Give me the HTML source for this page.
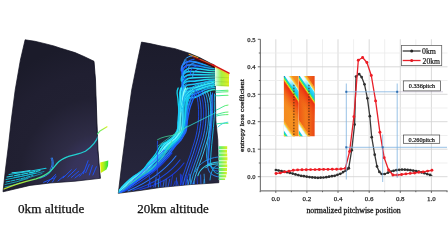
<!DOCTYPE html>
<html><head><meta charset="utf-8"><title>Entropy loss</title>
<style>
html,body{margin:0;padding:0;background:#fff;width:448px;height:252px;overflow:hidden}
svg{display:block}
text{font-family:"Liberation Serif","Times New Roman",serif;fill:#111}
.tk{font-size:6.8px;fill:#2a2a2a;stroke:#2a2a2a;stroke-width:0.25px}
.al{font-size:7.4px;fill:#1a1a1a;stroke:#1a1a1a;stroke-width:0.28px}
.bx{font-size:6.2px;fill:#1a1a1a;stroke:#1a1a1a;stroke-width:0.22px}
.lg{font-size:8.4px;fill:#1a1a1a;stroke:#1a1a1a;stroke-width:0.22px}
.cap{font-size:12.6px;fill:#111;stroke:#111;stroke-width:0.25px}
</style></head><body>
<svg width="448" height="252" viewBox="0 0 448 252">
<defs>
<radialGradient id="bladeL" gradientUnits="userSpaceOnUse" cx="100" cy="178" r="135">
<stop offset="0" stop-color="#3c3860"/><stop offset="0.22" stop-color="#36335a"/><stop offset="0.33" stop-color="#2e2c46"/><stop offset="0.6" stop-color="#212032"/><stop offset="0.78" stop-color="#201f31"/><stop offset="1" stop-color="#1b1b2a"/></radialGradient>
<linearGradient id="bladeM" gradientUnits="userSpaceOnUse" x1="0" y1="45" x2="0" y2="190">
<stop offset="0" stop-color="#1c1c2c"/><stop offset="0.5" stop-color="#212134"/><stop offset="1" stop-color="#27273f"/></linearGradient>
<linearGradient id="ib0" x1="0" y1="0" x2="1" y2="0"><stop offset="0" stop-color="#f48a20"/><stop offset="0.5" stop-color="#f5901e"/><stop offset="1" stop-color="#f4861e"/></linearGradient>
<linearGradient id="ib1" x1="0" y1="0" x2="1" y2="0"><stop offset="0" stop-color="#ef5616"/><stop offset="0.45" stop-color="#f27a1a"/><stop offset="0.7" stop-color="#ef6418"/><stop offset="1" stop-color="#ea4414"/></linearGradient>
<clipPath id="ic0"><rect x="283.7" y="76.0" width="15.05" height="60.50"/></clipPath>
<linearGradient id="bg00" gradientUnits="userSpaceOnUse" x1="290.33" y1="72.92" x2="272.10" y2="85.24"><stop offset="0.000" stop-color="#f5901e" stop-opacity="0"/><stop offset="0.027" stop-color="#f7a024" stop-opacity="0.9"/><stop offset="0.077" stop-color="#f8b830" stop-opacity="1"/><stop offset="0.118" stop-color="#f8e070" stop-opacity="1"/><stop offset="0.141" stop-color="#b0f4ff" stop-opacity="1"/><stop offset="0.173" stop-color="#38dcf8" stop-opacity="1"/><stop offset="0.300" stop-color="#10c8f0" stop-opacity="1"/><stop offset="0.341" stop-color="#20d8b0" stop-opacity="1"/><stop offset="0.368" stop-color="#50ec50" stop-opacity="1"/><stop offset="0.400" stop-color="#e8e820" stop-opacity="1"/><stop offset="0.432" stop-color="#f07818" stop-opacity="1"/><stop offset="0.468" stop-color="#ea3010" stop-opacity="1"/><stop offset="0.591" stop-color="#ee4012" stop-opacity="0.85"/><stop offset="1.000" stop-color="#f06a18" stop-opacity="0"/></linearGradient>
<linearGradient id="wg00" gradientUnits="userSpaceOnUse" x1="283.70" y1="77.40" x2="291.54" y2="89.00"><stop offset="0" stop-color="#fff" stop-opacity="1"/><stop offset="0.35" stop-color="#fff" stop-opacity="0.95"/><stop offset="1" stop-color="#fff" stop-opacity="0"/></linearGradient>
<linearGradient id="bg01" gradientUnits="userSpaceOnUse" x1="290.33" y1="128.72" x2="272.10" y2="141.04"><stop offset="0.000" stop-color="#f5901e" stop-opacity="0"/><stop offset="0.027" stop-color="#f7a024" stop-opacity="0.9"/><stop offset="0.077" stop-color="#f8b830" stop-opacity="1"/><stop offset="0.118" stop-color="#f8e070" stop-opacity="1"/><stop offset="0.141" stop-color="#b0f4ff" stop-opacity="1"/><stop offset="0.173" stop-color="#38dcf8" stop-opacity="1"/><stop offset="0.300" stop-color="#10c8f0" stop-opacity="1"/><stop offset="0.341" stop-color="#20d8b0" stop-opacity="1"/><stop offset="0.368" stop-color="#50ec50" stop-opacity="1"/><stop offset="0.400" stop-color="#e8e820" stop-opacity="1"/><stop offset="0.432" stop-color="#f07818" stop-opacity="1"/><stop offset="0.468" stop-color="#ea3010" stop-opacity="1"/><stop offset="0.591" stop-color="#ee4012" stop-opacity="0.85"/><stop offset="1.000" stop-color="#f06a18" stop-opacity="0"/></linearGradient>
<linearGradient id="wg01" gradientUnits="userSpaceOnUse" x1="283.70" y1="133.20" x2="291.54" y2="144.80"><stop offset="0" stop-color="#fff" stop-opacity="1"/><stop offset="0.35" stop-color="#fff" stop-opacity="0.95"/><stop offset="1" stop-color="#fff" stop-opacity="0"/></linearGradient>
<clipPath id="ic1"><rect x="298.75" y="76.0" width="16.05" height="60.50"/></clipPath>
<linearGradient id="bg10" gradientUnits="userSpaceOnUse" x1="305.38" y1="72.92" x2="287.15" y2="85.24"><stop offset="0.000" stop-color="#f5901e" stop-opacity="0"/><stop offset="0.027" stop-color="#f7a024" stop-opacity="0.9"/><stop offset="0.077" stop-color="#f8b830" stop-opacity="1"/><stop offset="0.118" stop-color="#f8e070" stop-opacity="1"/><stop offset="0.141" stop-color="#b0f4ff" stop-opacity="1"/><stop offset="0.173" stop-color="#38dcf8" stop-opacity="1"/><stop offset="0.300" stop-color="#10c8f0" stop-opacity="1"/><stop offset="0.341" stop-color="#20d8b0" stop-opacity="1"/><stop offset="0.368" stop-color="#50ec50" stop-opacity="1"/><stop offset="0.400" stop-color="#e8e820" stop-opacity="1"/><stop offset="0.432" stop-color="#f07818" stop-opacity="1"/><stop offset="0.468" stop-color="#ea3010" stop-opacity="1"/><stop offset="0.591" stop-color="#ee4012" stop-opacity="0.85"/><stop offset="1.000" stop-color="#f06a18" stop-opacity="0"/></linearGradient>
<linearGradient id="wg10" gradientUnits="userSpaceOnUse" x1="298.75" y1="77.40" x2="306.59" y2="89.00"><stop offset="0" stop-color="#fff" stop-opacity="1"/><stop offset="0.35" stop-color="#fff" stop-opacity="0.95"/><stop offset="1" stop-color="#fff" stop-opacity="0"/></linearGradient>
<linearGradient id="bg11" gradientUnits="userSpaceOnUse" x1="305.38" y1="128.72" x2="287.15" y2="141.04"><stop offset="0.000" stop-color="#f5901e" stop-opacity="0"/><stop offset="0.027" stop-color="#f7a024" stop-opacity="0.9"/><stop offset="0.077" stop-color="#f8b830" stop-opacity="1"/><stop offset="0.118" stop-color="#f8e070" stop-opacity="1"/><stop offset="0.141" stop-color="#b0f4ff" stop-opacity="1"/><stop offset="0.173" stop-color="#38dcf8" stop-opacity="1"/><stop offset="0.300" stop-color="#10c8f0" stop-opacity="1"/><stop offset="0.341" stop-color="#20d8b0" stop-opacity="1"/><stop offset="0.368" stop-color="#50ec50" stop-opacity="1"/><stop offset="0.400" stop-color="#e8e820" stop-opacity="1"/><stop offset="0.432" stop-color="#f07818" stop-opacity="1"/><stop offset="0.468" stop-color="#ea3010" stop-opacity="1"/><stop offset="0.591" stop-color="#ee4012" stop-opacity="0.85"/><stop offset="1.000" stop-color="#f06a18" stop-opacity="0"/></linearGradient>
<linearGradient id="wg11" gradientUnits="userSpaceOnUse" x1="298.75" y1="133.20" x2="306.59" y2="144.80"><stop offset="0" stop-color="#fff" stop-opacity="1"/><stop offset="0.35" stop-color="#fff" stop-opacity="0.95"/><stop offset="1" stop-color="#fff" stop-opacity="0"/></linearGradient>
<filter id="soft" x="-5%" y="-5%" width="110%" height="110%"><feGaussianBlur stdDeviation="0.3"/></filter>
<clipPath id="cL"><path d="M25.1,39.8 L35.0,41.3 L45.0,43.7 L54.0,46.0 L60.0,48.0 L75.0,52.6 L84.0,56.5 L94.0,61.3 L95.5,80.0 L96.7,115.0 L98.0,150.0 L99.2,165.0 L100.4,178.3 L75.0,181.2 L50.0,183.0 L30.0,185.4 L3.0,191.8 L5.4,170.0 L8.5,145.0 L11.3,120.0 L15.2,90.0 L20.4,60.0Z"/></clipPath>
<clipPath id="cM"><path d="M141.5,42.1 L150.0,43.6 L160.0,45.8 L175.0,48.7 L190.0,53.5 L200.0,57.8 L210.0,63.0 L215.0,65.5 L215.4,90.0 L215.8,120.0 L217.8,140.0 L218.8,182.7 L190.0,184.6 L160.0,187.5 L140.0,190.5 L118.3,193.3 L122.3,160.0 L127.5,120.0 L131.7,90.0 L137.7,60.0Z"/></clipPath>
<linearGradient id="gMain" gradientUnits="userSpaceOnUse" x1="98" y1="134" x2="4" y2="189"><stop offset="0" stop-color="#20c4d0"/><stop offset="0.45" stop-color="#20d8d0"/><stop offset="0.62" stop-color="#40e890"/><stop offset="0.8" stop-color="#a0e840"/><stop offset="1" stop-color="#c8e030"/></linearGradient>
<linearGradient id="gTail1" gradientUnits="userSpaceOnUse" x1="97" y1="133" x2="107" y2="127"><stop offset="0" stop-color="#40e880"/><stop offset="1" stop-color="#d8f020"/></linearGradient>
<linearGradient id="gBlk1" x1="0" y1="0" x2="1" y2="0"><stop offset="0" stop-color="#f0f000"/><stop offset="0.45" stop-color="#a0f020"/><stop offset="1" stop-color="#20e040"/></linearGradient>
<linearGradient id="gRibA" gradientUnits="userSpaceOnUse" x1="182" y1="0" x2="217" y2="0"><stop offset="0" stop-color="#18b8f8"/><stop offset="0.55" stop-color="#20d8f8"/><stop offset="0.85" stop-color="#20d8d0"/><stop offset="1" stop-color="#40e8a0"/></linearGradient>
<linearGradient id="gRibB" gradientUnits="userSpaceOnUse" x1="182" y1="0" x2="217" y2="0"><stop offset="0" stop-color="#2a70ff"/><stop offset="0.5" stop-color="#1890f8"/><stop offset="1" stop-color="#18c8d0"/></linearGradient>
<linearGradient id="gRibC" gradientUnits="userSpaceOnUse" x1="182" y1="0" x2="217" y2="0"><stop offset="0" stop-color="#10c8f0"/><stop offset="0.6" stop-color="#30e8f8"/><stop offset="1" stop-color="#50f0c0"/></linearGradient>
<linearGradient id="gTailM" gradientUnits="userSpaceOnUse" x1="215" y1="0" x2="229" y2="0"><stop offset="0" stop-color="#e0fff0"/><stop offset="0.22" stop-color="#b0f8a0"/><stop offset="0.45" stop-color="#a8f040"/><stop offset="1" stop-color="#e0f020"/></linearGradient>
<linearGradient id="gTailG" gradientUnits="userSpaceOnUse" x1="215" y1="0" x2="228" y2="0"><stop offset="0" stop-color="#30e0c0"/><stop offset="1" stop-color="#60f060"/></linearGradient>
<linearGradient id="gTailB" gradientUnits="userSpaceOnUse" x1="218" y1="0" x2="227" y2="0"><stop offset="0" stop-color="#40e8c0"/><stop offset="0.35" stop-color="#70f060"/><stop offset="1" stop-color="#d8f020"/></linearGradient>
</defs>
<rect width="448" height="252" fill="#fff"/>
<path d="M25.1,39.8 L35.0,41.3 L45.0,43.7 L54.0,46.0 L60.0,48.0 L75.0,52.6 L84.0,56.5 L94.0,61.3 L95.5,80.0 L96.7,115.0 L98.0,150.0 L99.2,165.0 L100.4,178.3 L75.0,181.2 L50.0,183.0 L30.0,185.4 L3.0,191.8 L5.4,170.0 L8.5,145.0 L11.3,120.0 L15.2,90.0 L20.4,60.0Z" fill="url(#bladeL)" stroke="#101020" stroke-width="0.7" stroke-linejoin="round"/>
<g clip-path="url(#cL)"><g filter="url(#soft)"><path d="M94.6,61 L96.2,80 L97.3,115 L98.6,150 L99.8,165 L101,179" fill="none" stroke="#141426" stroke-width="2.2" stroke-opacity="0.8" stroke-linecap="round"/><path d="M9,174.5 Q27.5,172.0 46,168.3" fill="none" stroke="#18c8e0" stroke-width="1.1" stroke-linecap="round"/><path d="M7,177 Q23.5,174.35 40,170.5" fill="none" stroke="#20d8e8" stroke-width="1.2" stroke-linecap="round" stroke-dasharray="6 1.5"/><path d="M6,179.5 Q21.0,176.85 36,173" fill="none" stroke="#10b8d0" stroke-width="1.0" stroke-linecap="round"/><path d="M6,182 Q19.5,179.35 33,175.5" fill="none" stroke="#18c0d8" stroke-width="1.0" stroke-linecap="round" stroke-dasharray="4 1.2"/><path d="M5,184.5 Q16.5,182.1 28,178.5" fill="none" stroke="#10a8c0" stroke-width="0.9" stroke-linecap="round"/><path d="M12,172.8 Q21.0,172.25 30,170.5" fill="none" stroke="#30e0f0" stroke-width="1.0" stroke-linecap="round"/><path d="M14,177.5 Q29.0,175.1 44,171.5" fill="none" stroke="#10c0e0" stroke-width="0.7" stroke-linecap="round" stroke-dasharray="3 1"/><path d="M5,187 Q12.5,185.6 20,183" fill="none" stroke="#10a0b8" stroke-width="0.9" stroke-linecap="round"/><path d="M20,180 Q31.0,177.35 42,173.5" fill="none" stroke="#20b0d0" stroke-width="0.7" stroke-linecap="round"/><path d="M63.1,177.9 L71.4,169.8" fill="none" stroke="#2050f0" stroke-width="1.0" stroke-linecap="round"/><path d="M67.9,176.9 L76.2,169" fill="none" stroke="#2050f0" stroke-width="1.0" stroke-linecap="round"/><path d="M71.4,177.4 L78.6,171.4" fill="none" stroke="#2050f0" stroke-width="1.0" stroke-linecap="round"/><path d="M79.8,176.2 L84.5,170.2" fill="none" stroke="#2050f0" stroke-width="1.0" stroke-linecap="round"/><path d="M83.3,173.8 L88.1,160.7" fill="none" stroke="#2050f0" stroke-width="1.0" stroke-linecap="round"/><path d="M85.7,172.6 L89.3,164.3" fill="none" stroke="#2050f0" stroke-width="1.0" stroke-linecap="round"/><path d="M89.3,175 L92.4,165.5" fill="none" stroke="#2050f0" stroke-width="1.0" stroke-linecap="round"/><path d="M92.9,175 L96.4,166.7" fill="none" stroke="#2050f0" stroke-width="1.0" stroke-linecap="round"/><path d="M52.4,182.1 L56,176.2" fill="none" stroke="#2050f0" stroke-width="1.0" stroke-linecap="round"/><path d="M43.6,182.3 L54.1,177.9" fill="none" stroke="#2050f0" stroke-width="1.0" stroke-linecap="round"/><path d="M47,183 L55.8,174.4" fill="none" stroke="#2050f0" stroke-width="1.0" stroke-linecap="round"/><path d="M58,181 L64,176" fill="none" stroke="#2050f0" stroke-width="1.0" stroke-linecap="round"/><path d="M75,178 L80,174" fill="none" stroke="#2050f0" stroke-width="1.0" stroke-linecap="round"/><path d="M52.2,157.8 C54,162 53.5,168 50,172.5 C47,175.5 44,177 40,178.2" fill="none" stroke="#2a80f0" stroke-width="1.0" stroke-linecap="round"/><path d="M51.2,158.3 C53,163 52,166 50,170" fill="none" stroke="#3080ff" stroke-width="0.9" stroke-linecap="round"/><path d="M99,134.5 C97,140 92,147 85.4,151.2 C80,154 72,155 67.9,156.7 C63,158.5 60,160 57,163.5 C55,166 53,169 50,171.5 C46,175 42,177 36,178.8 C25,181.5 14,184.5 4,189" fill="none" stroke="url(#gMain)" stroke-width="1.25" stroke-linecap="round"/></g></g>
<path d="M97.5,133.8 L100,131 L107,126.8" fill="none" stroke="url(#gTail1)" stroke-width="1.1" stroke-linecap="round"/>
<path d="M100.2,162.4 L108.3,160.6 L108,166 L106.5,169.5 L100.8,173 Z" fill="url(#gBlk1)"/>
<path d="M141.5,42.1 L150.0,43.6 L160.0,45.8 L175.0,48.7 L190.0,53.5 L200.0,57.8 L210.0,63.0 L215.0,65.5 L215.4,90.0 L215.8,120.0 L217.8,140.0 L218.8,182.7 L190.0,184.6 L160.0,187.5 L140.0,190.5 L118.3,193.3 L122.3,160.0 L127.5,120.0 L131.7,90.0 L137.7,60.0Z" fill="url(#bladeM)" stroke="#101020" stroke-width="0.7" stroke-linejoin="round"/>
<g clip-path="url(#cM)"><g filter="url(#soft)"><path d="M181.5,71.0 C181.0,65.0 184.5,61.5 190.5,61.4 C198.5,61.4 204.0,66.5 216.5,66.8" fill="none" stroke="url(#gRibB)" stroke-width="1.7" stroke-linecap="round"/><path d="M182.3,74.3 C181.8,68.3 185.3,64.8 191.3,64.7 C199.3,64.7 204.0,68.5 216.5,68.8" fill="none" stroke="url(#gRibB)" stroke-width="1.7" stroke-linecap="round"/><path d="M183.1,77.6 C182.6,71.6 186.1,68.1 192.1,68.0 C200.1,68.0 204.0,70.6 216.5,70.9" fill="none" stroke="url(#gRibA)" stroke-width="1.7" stroke-linecap="round"/><path d="M181.5,80.9 C181.0,74.9 184.5,71.4 190.5,71.3 C198.5,71.3 204.0,72.7 216.5,73.0" fill="none" stroke="url(#gRibC)" stroke-width="1.7" stroke-linecap="round"/><path d="M182.3,84.2 C181.8,78.2 185.3,74.7 191.3,74.6 C199.3,74.6 204.0,74.7 216.5,75.0" fill="none" stroke="url(#gRibA)" stroke-width="1.7" stroke-linecap="round"/><path d="M183.1,87.5 C182.6,81.5 186.1,78.0 192.1,77.9 C200.1,77.9 204.0,76.8 216.5,77.0" fill="none" stroke="url(#gRibC)" stroke-width="1.7" stroke-linecap="round"/><path d="M181.5,90.8 C181.0,84.8 184.5,81.3 190.5,81.2 C198.5,81.2 204.0,78.8 216.5,79.1" fill="none" stroke="url(#gRibA)" stroke-width="1.7" stroke-linecap="round"/><path d="M182.3,94.1 C181.8,88.1 185.3,84.6 191.3,84.5 C199.3,84.5 204.0,80.8 216.5,81.1" fill="none" stroke="url(#gRibA)" stroke-width="1.7" stroke-linecap="round"/><path d="M183.1,97.4 C182.6,91.4 186.1,87.9 192.1,87.8 C200.1,87.8 204.0,82.9 216.5,83.2" fill="none" stroke="url(#gRibC)" stroke-width="1.7" stroke-linecap="round"/><path d="M181.5,100.7 C181.0,94.7 184.5,91.2 190.5,91.1 C198.5,91.1 204.0,85.0 216.5,85.2" fill="none" stroke="url(#gRibA)" stroke-width="1.7" stroke-linecap="round"/><path d="M182.3,104.0 C181.8,98.0 185.3,94.5 191.3,94.4 C199.3,94.4 204.0,87.0 216.5,87.3" fill="none" stroke="url(#gRibB)" stroke-width="1.7" stroke-linecap="round"/><path d="M183.1,107.3 C182.6,101.3 186.1,97.8 192.1,97.7 C200.1,97.7 204.0,89.0 216.5,89.3" fill="none" stroke="url(#gRibA)" stroke-width="1.7" stroke-linecap="round"/><path d="M188.0,63.6 C198.0,63.3 205.0,67.5 216.5,67.8" fill="none" stroke="#1a2470" stroke-width="0.5" stroke-linecap="round"/><path d="M190.0,66.9 C198.0,66.6 205.0,69.5 216.5,69.8" fill="none" stroke="#1a2a80" stroke-width="0.5" stroke-linecap="round"/><path d="M188.0,70.2 C198.0,69.9 205.0,71.6 216.5,71.9" fill="none" stroke="#1a2470" stroke-width="0.5" stroke-linecap="round"/><path d="M190.0,73.5 C198.0,73.2 205.0,73.7 216.5,74.0" fill="none" stroke="#1a2a80" stroke-width="0.5" stroke-linecap="round"/><path d="M188.0,76.8 C198.0,76.5 205.0,75.7 216.5,76.0" fill="none" stroke="#1a2470" stroke-width="0.5" stroke-linecap="round"/><path d="M190.0,80.1 C198.0,79.8 205.0,77.8 216.5,78.0" fill="none" stroke="#1a2a80" stroke-width="0.5" stroke-linecap="round"/><path d="M188.0,83.4 C198.0,83.1 205.0,79.8 216.5,80.1" fill="none" stroke="#1a2470" stroke-width="0.5" stroke-linecap="round"/><path d="M190.0,86.7 C198.0,86.4 205.0,81.8 216.5,82.1" fill="none" stroke="#1a2a80" stroke-width="0.5" stroke-linecap="round"/><path d="M188.0,90.0 C198.0,89.7 205.0,83.9 216.5,84.2" fill="none" stroke="#1a2470" stroke-width="0.5" stroke-linecap="round"/><path d="M190.0,93.3 C198.0,93.0 205.0,86.0 216.5,86.2" fill="none" stroke="#1a2a80" stroke-width="0.5" stroke-linecap="round"/><path d="M188.0,96.6 C198.0,96.3 205.0,88.0 216.5,88.3" fill="none" stroke="#1a2470" stroke-width="0.5" stroke-linecap="round"/><path d="M196,58.6 L216,67.6" fill="none" stroke="#3a0a10" stroke-width="2.6" stroke-linecap="round"/><path d="M190,55.4 L216,66.6" fill="none" stroke="#b01414" stroke-width="1.0" stroke-linecap="round"/><path d="M189,54.4 L198,57.6" fill="none" stroke="#f0b020" stroke-width="0.9" stroke-linecap="round"/><path d="M200,59.2 L216,65.9" fill="none" stroke="#f06020" stroke-width="0.8" stroke-linecap="round"/><path d="M192.0,56.0 C186.0,56.5 183.0,60.5 184.0,64.5" fill="none" stroke="#30a0ff" stroke-width="1.0" stroke-linecap="round"/><path d="M194.2,59.2 C188.2,59.7 185.2,63.7 186.2,67.7" fill="none" stroke="#2060ff" stroke-width="1.0" stroke-linecap="round"/><path d="M196.4,62.4 C190.4,62.9 187.4,66.9 188.4,70.9" fill="none" stroke="#30a0ff" stroke-width="1.0" stroke-linecap="round"/><path d="M198.6,65.6 C192.6,66.1 189.6,70.1 190.6,74.1" fill="none" stroke="#2060ff" stroke-width="1.0" stroke-linecap="round"/><path d="M200.8,68.8 C194.8,69.3 191.8,73.3 192.8,77.3" fill="none" stroke="#30a0ff" stroke-width="1.0" stroke-linecap="round"/><path d="M186.5,60.0 C181.0,63.0 180.8,69.0 184.0,73.0" fill="none" stroke="#2a90ff" stroke-width="0.9" stroke-linecap="round"/><path d="M186.5,66.0 C181.0,69.0 180.8,75.0 184.0,79.0" fill="none" stroke="#1f50ff" stroke-width="0.9" stroke-linecap="round"/><path d="M186.5,72.0 C181.0,75.0 180.8,81.0 184.0,85.0" fill="none" stroke="#2a90ff" stroke-width="0.9" stroke-linecap="round"/><path d="M186.5,78.0 C181.0,81.0 180.8,87.0 184.0,91.0" fill="none" stroke="#1f50ff" stroke-width="0.9" stroke-linecap="round"/><path d="M186.5,84.0 C181.0,87.0 180.8,93.0 184.0,97.0" fill="none" stroke="#2a90ff" stroke-width="0.9" stroke-linecap="round"/><path d="M186.5,90.0 C181.0,93.0 180.8,99.0 184.0,103.0" fill="none" stroke="#1f50ff" stroke-width="0.9" stroke-linecap="round"/><path d="M179.0,92.0 L178.9,94.0 L179.0,96.0 L179.1,98.0 L179.1,100.0 L179.0,102.0 L178.9,104.0 L178.9,106.0 L178.8,108.0 L178.8,110.0 L178.8,112.0 L178.8,114.0 L178.8,116.0 L178.8,118.0 L178.8,120.0 L178.7,122.0 L178.7,124.0 L178.6,126.0 L178.5,128.0 L178.2,130.0 L177.5,132.0 L176.3,134.0 L175.0,136.0 L173.1,138.0 L170.8,140.0 L167.7,142.0 L164.3,144.0 L162.1,146.0 L160.6,148.0 L159.3,150.0 L169.1,150.0 L170.6,148.0 L172.3,146.0 L174.3,144.0 L176.7,142.0 L178.8,140.0 L180.3,138.0 L181.6,136.0 L182.8,134.0 L184.0,132.0 L184.7,130.0 L185.0,128.0 L185.3,126.0 L185.6,124.0 L185.8,122.0 L186.0,120.0 L186.2,118.0 L186.3,116.0 L186.4,114.0 L186.6,112.0 L186.8,110.0 L187.1,108.0 L187.5,106.0 L188.0,104.0 L188.6,102.0 L189.2,100.0 L189.8,98.0 L190.5,96.0 L191.2,94.0 L192.1,92.0Z" fill="#14bce0" opacity="0.75"/><path d="M178.2,88.0 L177.2,90.7 L177.1,93.4 L177.5,96.0 L177.9,98.7 L178.1,101.4 L178.3,104.1 L178.6,106.8 L178.7,109.4 L178.8,112.1 L178.8,114.8 L178.8,117.5 L178.6,120.2 L178.4,122.8 L178.2,125.5 L177.7,128.2 L177.0,130.9 L175.4,133.6 L173.5,136.2 L170.6,138.9 L166.7,141.6 L162.1,144.3 L159.6,146.9 L158.0,149.6 L156.6,152.3 L154.9,155.0 L152.7,157.7 L150.4,160.3 L148.2,163.0 L146.3,165.7 L144.3,168.4 L141.6,171.1 L138.1,173.7 L134.2,176.4 L130.6,179.1 L127.4,181.8 L124.5,184.5 L121.8,187.1 L119.6,189.8 L117.9,192.5" fill="none" stroke="#10d8f0" stroke-width="1.3" stroke-linecap="round"/><path d="M180.9,88.0 L180.0,90.7 L179.7,93.4 L179.8,96.0 L179.9,98.7 L179.7,101.4 L179.5,104.1 L179.2,106.8 L179.0,109.4 L178.7,112.1 L178.5,114.8 L178.3,117.5 L178.1,120.2 L177.9,122.8 L177.9,125.5 L177.7,128.2 L177.3,130.9 L176.1,133.6 L174.6,136.2 L172.1,138.9 L168.7,141.6 L164.4,144.3 L162.0,146.9 L160.3,149.6 L158.7,152.3 L156.8,155.0 L154.3,157.7 L151.6,160.3 L149.0,163.0 L146.7,165.7 L144.3,168.4 L141.4,171.1 L137.7,173.7 L133.7,176.4 L130.2,179.1 L127.2,181.8 L124.4,184.5 L121.9,187.1 L120.0,189.8 L118.4,192.5" fill="none" stroke="#18c8f8" stroke-width="1.3" stroke-linecap="round"/><path d="M181.6,88.0 L180.6,90.7 L180.4,93.4 L180.5,96.0 L180.7,98.7 L180.7,101.4 L180.7,104.1 L180.6,106.8 L180.5,109.4 L180.3,112.1 L180.1,114.8 L179.9,117.5 L179.6,120.2 L179.3,122.8 L178.9,125.5 L178.5,128.2 L177.9,130.9 L176.5,133.6 L174.7,136.2 L172.2,138.9 L168.8,141.6 L164.6,144.3 L162.3,146.9 L160.7,149.6 L159.3,152.3 L157.5,155.0 L155.3,157.7 L152.8,160.3 L150.4,163.0 L148.3,165.7 L146.0,168.4 L143.2,171.1 L139.4,173.7 L135.3,176.4 L131.7,179.1 L128.3,181.8 L125.2,184.5 L122.4,187.1 L120.0,189.8 L118.0,192.5" fill="none" stroke="#40ecf8" stroke-width="1.3" stroke-linecap="round"/><path d="M184.1,88.0 L183.0,90.7 L182.4,93.4 L182.2,96.0 L182.0,98.7 L181.6,101.4 L181.1,104.1 L180.7,106.8 L180.4,109.4 L180.1,112.1 L179.8,114.8 L179.7,117.5 L179.5,120.2 L179.4,122.8 L179.4,125.5 L179.3,128.2 L179.0,130.9 L177.8,133.6 L176.3,136.2 L174.0,138.9 L170.8,141.6 L166.7,144.3 L164.3,146.9 L162.5,149.6 L160.7,152.3 L158.7,155.0 L156.1,157.7 L153.3,160.3 L150.7,163.0 L148.3,165.7 L145.9,168.4 L143.0,171.1 L139.3,173.7 L135.4,176.4 L131.9,179.1 L128.8,181.8 L125.9,184.5 L123.3,187.1 L121.0,189.8 L119.0,192.5" fill="none" stroke="#20c8f0" stroke-width="1.3" stroke-linecap="round"/><path d="M185.6,88.0 L184.4,90.7 L183.8,93.4 L183.4,96.0 L183.0,98.7 L182.5,101.4 L182.0,104.1 L181.5,106.8 L181.1,109.4 L180.8,112.1 L180.6,114.8 L180.4,117.5 L180.3,120.2 L180.2,122.8 L180.1,125.5 L180.0,128.2 L179.7,130.9 L178.6,133.6 L177.1,136.2 L174.9,138.9 L171.8,141.6 L167.9,144.3 L165.4,146.9 L163.5,149.6 L161.7,152.3 L159.6,155.0 L157.0,157.7 L154.2,160.3 L151.6,163.0 L149.2,165.7 L146.8,168.4 L143.8,171.1 L140.1,173.7 L136.2,176.4 L132.7,179.1 L129.6,181.8 L126.6,184.5 L123.9,187.1 L121.5,189.8 L119.3,192.5" fill="none" stroke="#60f0f8" stroke-width="1.3" stroke-linecap="round"/><path d="M185.8,88.0 L184.3,90.7 L183.5,93.4 L183.1,96.0 L182.8,98.7 L182.6,101.4 L182.4,104.1 L182.3,106.8 L182.3,109.4 L182.4,112.1 L182.5,114.8 L182.6,117.5 L182.6,120.2 L182.5,122.8 L182.3,125.5 L181.9,128.2 L181.3,130.9 L179.7,133.6 L177.8,136.2 L175.2,138.9 L171.8,141.6 L167.7,144.3 L165.0,146.9 L163.0,149.6 L161.2,152.3 L159.3,155.0 L157.0,157.7 L154.6,160.3 L152.4,163.0 L150.4,165.7 L148.4,168.4 L145.8,171.1 L142.4,173.7 L138.6,176.4 L135.1,179.1 L131.8,181.8 L128.5,184.5 L125.4,187.1 L122.3,189.8 L119.4,192.5" fill="none" stroke="#90f8ff" stroke-width="1.3" stroke-linecap="round"/><path d="M187.4,88.0 L185.9,90.7 L184.9,93.4 L184.3,96.0 L183.9,98.7 L183.5,101.4 L183.1,104.1 L182.9,106.8 L182.9,109.4 L182.9,112.1 L183.1,114.8 L183.2,117.5 L183.2,120.2 L183.2,122.8 L183.0,125.5 L182.7,128.2 L182.1,130.9 L180.6,133.6 L178.7,136.2 L176.3,138.9 L173.0,141.6 L169.0,144.3 L166.2,146.9 L164.1,149.6 L162.2,152.3 L160.2,155.0 L157.8,157.7 L155.4,160.3 L153.1,163.0 L151.1,165.7 L149.1,168.4 L146.5,171.1 L143.1,173.7 L139.3,176.4 L135.9,179.1 L132.6,181.8 L129.3,184.5 L126.1,187.1 L122.9,189.8 L119.8,192.5" fill="none" stroke="#40ecf8" stroke-width="1.3" stroke-linecap="round"/><path d="M186.5,95.0 L185.7,97.5 L185.0,100.0 L184.4,102.5 L183.8,105.0 L183.4,107.5 L183.1,110.0 L183.0,112.5 L183.1,115.0 L183.1,117.5 L183.2,120.0 L183.2,122.5 L183.2,125.0 L183.2,127.5 L182.9,130.0 L182.1,132.5 L180.6,135.0 L178.9,137.5 L176.7,140.0 L173.4,142.5 L170.0,145.0 L167.6,147.5 L165.6,150.0 L163.7,152.5 L161.6,155.0 L159.2,157.5 L156.7,160.0 L154.3,162.5 L152.2,165.0 L150.1,167.5 L147.8,170.0 L144.8,172.5 L141.4,175.0 L138.0,177.5 L134.9,180.0 L132.0,182.5 L129.0,185.0 L126.1,187.5 L123.3,190.0 L120.4,192.5" fill="none" stroke="#1ab8f0" stroke-width="1.3" stroke-linecap="round"/><path d="M187.5,95.0 L187.1,97.5 L186.8,100.0 L186.4,102.5 L186.0,105.0 L185.8,107.5 L185.5,110.0 L185.4,112.5 L185.2,115.0 L185.0,117.5 L184.7,120.0 L184.3,122.5 L183.9,125.0 L183.4,127.5 L182.8,130.0 L181.6,132.5 L179.9,135.0 L178.1,137.5 L176.0,140.0 L172.9,142.5 L169.9,145.0 L167.8,147.5 L166.2,150.0 L164.7,152.5 L163.0,155.0 L161.0,157.5 L158.8,160.0 L156.6,162.5 L154.7,165.0 L152.6,167.5 L150.2,170.0 L147.0,172.5 L143.2,175.0 L139.4,177.5 L135.9,180.0 L132.4,182.5 L129.0,185.0 L125.7,187.5 L122.3,190.0 L119.0,192.5" fill="none" stroke="#18d0e8" stroke-width="1.3" stroke-linecap="round"/><path d="M188.7,95.0 L188.1,97.5 L187.7,100.0 L187.3,102.5 L186.9,105.0 L186.6,107.5 L186.3,110.0 L186.2,112.5 L186.0,115.0 L185.8,117.5 L185.6,120.0 L185.2,122.5 L184.7,125.0 L184.2,127.5 L183.6,130.0 L182.4,132.5 L180.7,135.0 L178.9,137.5 L176.8,140.0 L173.9,142.5 L170.9,145.0 L168.8,147.5 L167.1,150.0 L165.6,152.5 L163.9,155.0 L161.9,157.5 L159.7,160.0 L157.6,162.5 L155.6,165.0 L153.5,167.5 L151.1,170.0 L147.9,172.5 L144.2,175.0 L140.4,177.5 L136.8,180.0 L133.3,182.5 L129.8,185.0 L126.3,187.5 L122.8,190.0 L119.3,192.5" fill="none" stroke="#28e0f0" stroke-width="1.3" stroke-linecap="round"/><path d="M189.6,95.0 L188.7,97.5 L188.0,100.0 L187.3,102.5 L186.8,105.0 L186.4,107.5 L186.2,110.0 L186.1,112.5 L186.2,115.0 L186.2,117.5 L186.2,120.0 L186.1,122.5 L185.9,125.0 L185.6,127.5 L185.2,130.0 L184.1,132.5 L182.5,135.0 L180.7,137.5 L178.6,140.0 L175.6,142.5 L172.5,145.0 L170.1,147.5 L168.1,150.0 L166.2,152.5 L164.2,155.0 L162.0,157.5 L159.7,160.0 L157.5,162.5 L155.5,165.0 L153.5,167.5 L151.2,170.0 L148.3,172.5 L144.8,175.0 L141.3,177.5 L138.0,180.0 L134.7,182.5 L131.3,185.0 L127.9,187.5 L124.2,190.0 L120.5,192.5" fill="none" stroke="#10c0f0" stroke-width="1.3" stroke-linecap="round"/><path d="M192.3,95.0 L191.4,97.5 L190.6,100.0 L189.8,102.5 L189.0,105.0 L188.3,107.5 L187.7,110.0 L187.2,112.5 L186.8,115.0 L186.4,117.5 L186.0,120.0 L185.6,122.5 L185.2,125.0 L184.7,127.5 L184.3,130.0 L183.4,132.5 L182.0,135.0 L180.6,137.5 L179.0,140.0 L176.6,142.5 L174.0,145.0 L172.0,147.5 L170.3,150.0 L168.6,152.5 L166.8,155.0 L164.6,157.5 L162.1,160.0 L159.7,162.5 L157.4,165.0 L155.0,167.5 L152.3,170.0 L148.8,172.5 L144.9,175.0 L141.0,177.5 L137.4,180.0 L133.9,182.5 L130.4,185.0 L126.9,187.5 L123.3,190.0 L119.6,192.5" fill="none" stroke="#1290f0" stroke-width="1.3" stroke-linecap="round"/><path d="M192.8,95.0 L191.5,97.5 L190.4,100.0 L189.4,102.5 L188.5,105.0 L187.8,107.5 L187.4,110.0 L187.2,112.5 L187.1,115.0 L187.1,117.5 L187.0,120.0 L187.0,122.5 L186.8,125.0 L186.7,127.5 L186.4,130.0 L185.6,132.5 L184.1,135.0 L182.6,137.5 L180.9,140.0 L178.3,142.5 L175.4,145.0 L173.0,147.5 L170.8,150.0 L168.8,152.5 L166.6,155.0 L164.2,157.5 L161.7,160.0 L159.3,162.5 L157.1,165.0 L154.9,167.5 L152.4,170.0 L149.3,172.5 L145.8,175.0 L142.2,177.5 L139.0,180.0 L135.7,182.5 L132.3,185.0 L128.8,187.5 L125.1,190.0 L121.1,192.5" fill="none" stroke="#2070f0" stroke-width="1.3" stroke-linecap="round"/><path d="M194.8,95.0 L193.8,97.5 L192.8,100.0 L191.9,102.5 L190.9,105.0 L190.1,107.5 L189.4,110.0 L188.9,112.5 L188.4,115.0 L188.0,117.5 L187.5,120.0 L187.1,122.5 L186.6,125.0 L186.1,127.5 L185.7,130.0 L184.8,132.5 L183.4,135.0 L182.1,137.5 L180.8,140.0 L178.6,142.5 L176.2,145.0 L174.2,147.5 L172.4,150.0 L170.7,152.5 L168.8,155.0 L166.6,157.5 L164.1,160.0 L161.7,162.5 L159.4,165.0 L156.9,167.5 L154.1,170.0 L150.6,172.5 L146.6,175.0 L142.7,177.5 L139.0,180.0 L135.3,182.5 L131.7,185.0 L128.0,187.5 L124.0,190.0 L120.0,192.5" fill="none" stroke="#2060ff" stroke-width="1.3" stroke-linecap="round"/><path d="M181.0,112.0 C182.0,98.0 192.0,90.0 214.0,86.0" fill="none" stroke="#18c8f0" stroke-width="1.0" stroke-linecap="round"/><path d="M181.5,110.4 C182.0,96.4 192.0,89.0 214.0,84.7" fill="none" stroke="#30e0f8" stroke-width="1.0" stroke-linecap="round"/><path d="M182.0,108.8 C182.0,94.8 192.0,88.1 214.0,83.4" fill="none" stroke="#10b0f0" stroke-width="1.0" stroke-linecap="round"/><path d="M182.4,107.2 C182.0,93.2 192.0,87.1 214.0,82.2" fill="none" stroke="#40e8f8" stroke-width="1.0" stroke-linecap="round"/><path d="M182.9,105.6 C182.0,91.6 192.0,86.2 214.0,80.9" fill="none" stroke="#18d0f0" stroke-width="1.0" stroke-linecap="round"/><path d="M183.4,104.0 C182.0,90.0 192.0,85.2 214.0,79.6" fill="none" stroke="#20a8f0" stroke-width="1.0" stroke-linecap="round"/><path d="M168,150 Q150,172 121,192" fill="none" stroke="#2060ff" stroke-width="1.1" stroke-linecap="round"/><path d="M172,153 Q156,174 124,191.5" fill="none" stroke="#1840f0" stroke-width="1.1" stroke-linecap="round"/><path d="M176,156 Q160,177 128,191" fill="none" stroke="#2878ff" stroke-width="1.1" stroke-linecap="round"/><path d="M180,160 Q165,180 133,190.3" fill="none" stroke="#1a48e8" stroke-width="1.1" stroke-linecap="round"/><path d="M184,163 Q170,182 140,189.5" fill="none" stroke="#1c3ce0" stroke-width="1.1" stroke-linecap="round"/><path d="M164,150 Q146,170 120,192.5" fill="none" stroke="#2a70ff" stroke-width="1.1" stroke-linecap="round"/><path d="M172,141 C168,150 160,162 148,171 C140,177 130,183 123,190" fill="none" stroke="#40e090" stroke-width="0.8" stroke-linecap="round"/><path d="M195.0,90.0 C201.0,106.0 199.0,128.0 194.0,143.0 C190.0,158.0 183.0,172.0 180.0,187.0" fill="none" stroke="#1c4cf0" stroke-width="0.9" stroke-linecap="round"/><path d="M197.5,90.4 C203.5,106.0 201.5,128.0 196.5,143.0 C192.5,158.0 185.5,172.0 182.5,187.0" fill="none" stroke="#2a6cff" stroke-width="0.9" stroke-linecap="round"/><path d="M200.0,90.8 C206.0,106.0 204.0,128.0 199.0,143.0 C195.0,158.0 188.0,172.0 185.0,187.0" fill="none" stroke="#1840e0" stroke-width="0.9" stroke-linecap="round"/><path d="M202.5,91.2 C208.5,106.0 206.5,128.0 201.5,143.0 C197.5,158.0 190.5,172.0 187.5,187.0" fill="none" stroke="#2c80ff" stroke-width="0.9" stroke-linecap="round"/><path d="M205.0,91.6 C211.0,106.0 209.0,128.0 204.0,143.0 C200.0,158.0 193.0,172.0 190.0,187.0" fill="none" stroke="#20a8f0" stroke-width="0.9" stroke-linecap="round"/><path d="M207.5,92.0 C213.5,106.0 211.5,128.0 206.5,143.0 C202.5,158.0 195.5,172.0 192.5,187.0" fill="none" stroke="#40c8f8" stroke-width="0.9" stroke-linecap="round"/><path d="M210.5,92.0 C212.0,115.0 207.5,140.0 206.5,155.0 C206.5,165.0 212.5,170.0 219,168.0" fill="none" stroke="#1ab0f0" stroke-width="0.9" stroke-linecap="round"/><path d="M212.5,93.0 C214.0,115.0 209.5,140.0 208.5,158.0 C208.5,168.0 214.5,172.0 219,171.0" fill="none" stroke="#2070ff" stroke-width="0.9" stroke-linecap="round"/><path d="M214.5,94.0 C216.0,115.0 211.5,140.0 210.5,161.0 C210.5,171.0 216.5,174.0 219,174.0" fill="none" stroke="#18c0f0" stroke-width="0.9" stroke-linecap="round"/><path d="M211.5,95.0 C213.0,115.0 208.5,140.0 207.5,164.0 C207.5,174.0 213.5,176.0 219,177.0" fill="none" stroke="#2a88ff" stroke-width="0.9" stroke-linecap="round"/><path d="M157.5,141.3 C157,150 158,162 157,176" fill="none" stroke="#2050f0" stroke-width="0.8" stroke-linecap="round"/><path d="M148.2,187.0 L149.6,181.6" fill="none" stroke="#2458ff" stroke-width="0.8" stroke-linecap="round"/><path d="M150.5,187.0 L149.2,176.3" fill="none" stroke="#1c40f0" stroke-width="0.8" stroke-linecap="round"/><path d="M153.5,187.0 L154.8,182.6" fill="none" stroke="#1c40f0" stroke-width="0.8" stroke-linecap="round"/><path d="M155.2,187.0 L156.1,177.6" fill="none" stroke="#3070ff" stroke-width="0.8" stroke-linecap="round"/><path d="M158.5,187.0 L158.3,179.4" fill="none" stroke="#30a0f0" stroke-width="0.8" stroke-linecap="round"/><path d="M161.0,187.0 L159.2,175.1" fill="none" stroke="#1c40f0" stroke-width="0.8" stroke-linecap="round"/><path d="M163.0,187.0 L164.1,180.7" fill="none" stroke="#3070ff" stroke-width="0.8" stroke-linecap="round"/><path d="M165.9,187.0 L166.2,179.2" fill="none" stroke="#3070ff" stroke-width="0.8" stroke-linecap="round"/><path d="M168.0,187.0 L169.7,179.3" fill="none" stroke="#2458ff" stroke-width="0.8" stroke-linecap="round"/><path d="M170.7,187.0 L172.7,174.6" fill="none" stroke="#1a38e0" stroke-width="0.8" stroke-linecap="round"/><path d="M173.2,187.0 L175.1,181.5" fill="none" stroke="#1a38e0" stroke-width="0.8" stroke-linecap="round"/><path d="M176.0,187.0 L176.5,177.9" fill="none" stroke="#2458ff" stroke-width="0.8" stroke-linecap="round"/><path d="M178.6,187.0 L176.8,180.6" fill="none" stroke="#1c40f0" stroke-width="0.8" stroke-linecap="round"/><path d="M180.9,187.0 L180.3,174.1" fill="none" stroke="#1c40f0" stroke-width="0.8" stroke-linecap="round"/><path d="M182.5,187.0 L181.7,174.9" fill="none" stroke="#1c40f0" stroke-width="0.8" stroke-linecap="round"/><path d="M185.8,187.0 L186.2,175.1" fill="none" stroke="#1c40f0" stroke-width="0.8" stroke-linecap="round"/><path d="M188.3,187.0 L187.6,179.6" fill="none" stroke="#30a0f0" stroke-width="0.8" stroke-linecap="round"/><path d="M191.0,187.0 L189.9,174.2" fill="none" stroke="#30a0f0" stroke-width="0.8" stroke-linecap="round"/><path d="M192.4,187.0 L192.8,182.9" fill="none" stroke="#1c40f0" stroke-width="0.8" stroke-linecap="round"/><path d="M194.9,187.0 L194.1,181.2" fill="none" stroke="#3070ff" stroke-width="0.8" stroke-linecap="round"/><path d="M197.7,187.0 L197.0,176.8" fill="none" stroke="#1a38e0" stroke-width="0.8" stroke-linecap="round"/><path d="M201.1,187.0 L200.6,174.9" fill="none" stroke="#3070ff" stroke-width="0.8" stroke-linecap="round"/><path d="M203.4,187.0 L204.2,179.5" fill="none" stroke="#30a0f0" stroke-width="0.8" stroke-linecap="round"/><path d="M205.0,187.0 L204.1,174.2" fill="none" stroke="#30a0f0" stroke-width="0.8" stroke-linecap="round"/><path d="M197.8,175.8 C200,168 208,163 218,162" fill="none" stroke="#30c8f0" stroke-width="1.1" stroke-linecap="round"/><path d="M205.7,167.8 C208,165 212,164 218,163.9" fill="none" stroke="#40d8f0" stroke-width="1.0" stroke-linecap="round"/><path d="M195,172 C199,163 208,158 218,157" fill="none" stroke="#2090f0" stroke-width="0.9" stroke-linecap="round"/><path d="M210,180 C211,170 214,166 218,165" fill="none" stroke="#20a8f0" stroke-width="0.9" stroke-linecap="round"/><path d="M186,127.5 L218,111.5" fill="none" stroke="#30e0d8" stroke-width="0.8" stroke-linecap="round"/><path d="M158,146 C166,140 176,132 186,127.5" fill="none" stroke="#30d8c8" stroke-width="0.7" stroke-linecap="round"/><path d="M157.5,139.7 C162,137 168,136 172.5,135.5 C178,133 184,130 187,126" fill="none" stroke="#40e8a0" stroke-width="0.7" stroke-linecap="round"/></g></g>
<g filter="url(#soft)"><path d="M215,66 L229,73.5 L229,86.5 L215,86 Z" fill="url(#gTailM)"/><path d="M212,64.5 L229,73.2" fill="none" stroke="#d81818" stroke-width="1.5" stroke-linecap="round"/><path d="M215,67.3 L229,74.8" fill="none" stroke="#f0c020" stroke-width="0.7" stroke-linecap="round"/><path d="M215.5,77.2 L228.5,77.8" fill="none" stroke="#2a3a20" stroke-width="0.35" stroke-opacity="0.35" stroke-linecap="round"/><path d="M215.5,81.5 L228.5,82.1" fill="none" stroke="#2a3a20" stroke-width="0.35" stroke-opacity="0.35" stroke-linecap="round"/><path d="M215.5,85.2 L228.5,85.8" fill="none" stroke="#2a3a20" stroke-width="0.35" stroke-opacity="0.35" stroke-linecap="round"/><path d="M216,90.8 C220,90.8 224,90.3 228,90.3" fill="none" stroke="url(#gTailG)" stroke-width="1.1" stroke-linecap="round"/><path d="M216,92.3 C220,92.3 224,91.8 228,91.8" fill="none" stroke="url(#gTailG)" stroke-width="1.1" stroke-linecap="round"/><path d="M216,95.8 C220,95.8 224,95.3 228,95.3" fill="none" stroke="url(#gTailG)" stroke-width="1.1" stroke-linecap="round"/><path d="M216.5,110 C220,109 224,105 228,105" fill="none" stroke="url(#gTailG)" stroke-width="1.0" stroke-linecap="round"/><path d="M216.5,114.6 C220,113.6 224,112 228,112" fill="none" stroke="url(#gTailG)" stroke-width="1.0" stroke-linecap="round"/><path d="M216.5,116 C220,115 224,114.6 228,114.6" fill="none" stroke="url(#gTailG)" stroke-width="1.0" stroke-linecap="round"/><path d="M216.5,124 C220,123 224,123.3 228,123.3" fill="none" stroke="url(#gTailG)" stroke-width="1.0" stroke-linecap="round"/><path d="M218,127 C221,124 224,122.5 227.8,122.2" fill="none" stroke="#30d0e0" stroke-width="0.9" stroke-linecap="round"/><rect x="218.6" y="146.2" width="8.6" height="3.0" fill="url(#gTailB)"/><rect x="218.6" y="149.9" width="8.4" height="2.8" fill="url(#gTailB)"/><rect x="218.6" y="153.4" width="8.6" height="3.0" fill="url(#gTailB)"/><rect x="218.6" y="157.2" width="8.8" height="3.2" fill="url(#gTailB)"/><rect x="218.6" y="161.2" width="8.2" height="2.4" fill="url(#gTailB)"/><rect x="218.6" y="164.4" width="8.6" height="2.8" fill="url(#gTailB)"/><rect x="218.6" y="168.0" width="8.4" height="3.0" fill="url(#gTailB)"/><rect x="218.6" y="171.8" width="8.2" height="2.6" fill="url(#gTailB)"/><rect x="218.6" y="175.2" width="7.6" height="2.2" fill="url(#gTailB)"/><rect x="218.6" y="178.4" width="6.5" height="1.6" fill="url(#gTailB)"/></g>

<line x1="275.8" y1="39.3" x2="275.8" y2="190.9" stroke="#cfcfcf" stroke-width="0.8"/>
<line x1="291.4" y1="39.3" x2="291.4" y2="190.9" stroke="#ebebeb" stroke-width="0.8"/>
<line x1="306.9" y1="39.3" x2="306.9" y2="190.9" stroke="#cfcfcf" stroke-width="0.8"/>
<line x1="322.5" y1="39.3" x2="322.5" y2="190.9" stroke="#ebebeb" stroke-width="0.8"/>
<line x1="338.0" y1="39.3" x2="338.0" y2="190.9" stroke="#cfcfcf" stroke-width="0.8"/>
<line x1="353.6" y1="39.3" x2="353.6" y2="190.9" stroke="#ebebeb" stroke-width="0.8"/>
<line x1="369.2" y1="39.3" x2="369.2" y2="190.9" stroke="#cfcfcf" stroke-width="0.8"/>
<line x1="384.7" y1="39.3" x2="384.7" y2="190.9" stroke="#ebebeb" stroke-width="0.8"/>
<line x1="400.3" y1="39.3" x2="400.3" y2="190.9" stroke="#cfcfcf" stroke-width="0.8"/>
<line x1="415.8" y1="39.3" x2="415.8" y2="190.9" stroke="#ebebeb" stroke-width="0.8"/>
<line x1="431.4" y1="39.3" x2="431.4" y2="190.9" stroke="#cfcfcf" stroke-width="0.8"/>
<line x1="260.4" y1="176.7" x2="447.5" y2="176.7" stroke="#cfcfcf" stroke-width="0.8"/>
<line x1="260.4" y1="163.0" x2="447.5" y2="163.0" stroke="#ebebeb" stroke-width="0.8"/>
<line x1="260.4" y1="149.2" x2="447.5" y2="149.2" stroke="#cfcfcf" stroke-width="0.8"/>
<line x1="260.4" y1="135.5" x2="447.5" y2="135.5" stroke="#ebebeb" stroke-width="0.8"/>
<line x1="260.4" y1="121.7" x2="447.5" y2="121.7" stroke="#cfcfcf" stroke-width="0.8"/>
<line x1="260.4" y1="108.0" x2="447.5" y2="108.0" stroke="#ebebeb" stroke-width="0.8"/>
<line x1="260.4" y1="94.3" x2="447.5" y2="94.3" stroke="#cfcfcf" stroke-width="0.8"/>
<line x1="260.4" y1="80.5" x2="447.5" y2="80.5" stroke="#ebebeb" stroke-width="0.8"/>
<line x1="260.4" y1="66.8" x2="447.5" y2="66.8" stroke="#cfcfcf" stroke-width="0.8"/>
<line x1="260.4" y1="53.0" x2="447.5" y2="53.0" stroke="#ebebeb" stroke-width="0.8"/>
<path d="M260.4 39.3V190.9H447.5" fill="none" stroke="#7a7a7a" stroke-width="1.2"/>
<line x1="257.79999999999995" y1="176.7" x2="260.4" y2="176.7" stroke="#555" stroke-width="0.9"/>
<line x1="258.79999999999995" y1="163.0" x2="260.4" y2="163.0" stroke="#555" stroke-width="0.9"/>
<line x1="257.79999999999995" y1="149.2" x2="260.4" y2="149.2" stroke="#555" stroke-width="0.9"/>
<line x1="258.79999999999995" y1="135.5" x2="260.4" y2="135.5" stroke="#555" stroke-width="0.9"/>
<line x1="257.79999999999995" y1="121.7" x2="260.4" y2="121.7" stroke="#555" stroke-width="0.9"/>
<line x1="258.79999999999995" y1="108.0" x2="260.4" y2="108.0" stroke="#555" stroke-width="0.9"/>
<line x1="257.79999999999995" y1="94.3" x2="260.4" y2="94.3" stroke="#555" stroke-width="0.9"/>
<line x1="258.79999999999995" y1="80.5" x2="260.4" y2="80.5" stroke="#555" stroke-width="0.9"/>
<line x1="257.79999999999995" y1="66.8" x2="260.4" y2="66.8" stroke="#555" stroke-width="0.9"/>
<line x1="258.79999999999995" y1="53.0" x2="260.4" y2="53.0" stroke="#555" stroke-width="0.9"/>
<line x1="257.79999999999995" y1="39.3" x2="260.4" y2="39.3" stroke="#555" stroke-width="0.9"/>
<text x="255.5" y="179.1" text-anchor="end" class="tk" textLength="8.2" lengthAdjust="spacingAndGlyphs">0.0</text>
<text x="255.5" y="151.6" text-anchor="end" class="tk" textLength="8.2" lengthAdjust="spacingAndGlyphs">0.1</text>
<text x="255.5" y="124.1" text-anchor="end" class="tk" textLength="8.2" lengthAdjust="spacingAndGlyphs">0.2</text>
<text x="255.5" y="96.7" text-anchor="end" class="tk" textLength="8.2" lengthAdjust="spacingAndGlyphs">0.3</text>
<text x="255.5" y="69.2" text-anchor="end" class="tk" textLength="8.2" lengthAdjust="spacingAndGlyphs">0.4</text>
<text x="255.5" y="41.7" text-anchor="end" class="tk" textLength="8.2" lengthAdjust="spacingAndGlyphs">0.5</text>
<line x1="260.2" y1="190.9" x2="260.2" y2="192.20000000000002" stroke="#555" stroke-width="0.9"/>
<line x1="275.8" y1="190.9" x2="275.8" y2="192.9" stroke="#555" stroke-width="0.9"/>
<line x1="291.4" y1="190.9" x2="291.4" y2="192.20000000000002" stroke="#555" stroke-width="0.9"/>
<line x1="306.9" y1="190.9" x2="306.9" y2="192.9" stroke="#555" stroke-width="0.9"/>
<line x1="322.5" y1="190.9" x2="322.5" y2="192.20000000000002" stroke="#555" stroke-width="0.9"/>
<line x1="338.0" y1="190.9" x2="338.0" y2="192.9" stroke="#555" stroke-width="0.9"/>
<line x1="353.6" y1="190.9" x2="353.6" y2="192.20000000000002" stroke="#555" stroke-width="0.9"/>
<line x1="369.2" y1="190.9" x2="369.2" y2="192.9" stroke="#555" stroke-width="0.9"/>
<line x1="384.7" y1="190.9" x2="384.7" y2="192.20000000000002" stroke="#555" stroke-width="0.9"/>
<line x1="400.3" y1="190.9" x2="400.3" y2="192.9" stroke="#555" stroke-width="0.9"/>
<line x1="415.8" y1="190.9" x2="415.8" y2="192.20000000000002" stroke="#555" stroke-width="0.9"/>
<line x1="431.4" y1="190.9" x2="431.4" y2="192.9" stroke="#555" stroke-width="0.9"/>
<line x1="447.0" y1="190.9" x2="447.0" y2="192.20000000000002" stroke="#555" stroke-width="0.9"/>
<text x="271.4" y="200.6" class="tk" textLength="8.7" lengthAdjust="spacingAndGlyphs">0.0</text>
<text x="302.6" y="200.6" class="tk" textLength="8.7" lengthAdjust="spacingAndGlyphs">0.2</text>
<text x="333.7" y="200.6" class="tk" textLength="8.7" lengthAdjust="spacingAndGlyphs">0.4</text>
<text x="364.8" y="200.6" class="tk" textLength="8.7" lengthAdjust="spacingAndGlyphs">0.6</text>
<text x="395.9" y="200.6" class="tk" textLength="8.7" lengthAdjust="spacingAndGlyphs">0.8</text>
<text x="427.0" y="200.6" class="tk" textLength="8.7" lengthAdjust="spacingAndGlyphs">1.0</text>
<text x="306.4" y="213.3" class="al" textLength="94.4" lengthAdjust="spacingAndGlyphs">normalized pitchwise position</text>
<text transform="translate(244.3 152.0) rotate(-90)" class="al" style="font-size:6.6px" textLength="72.8" lengthAdjust="spacingAndGlyphs">entropy loss coefficient</text>
<polyline fill="none" stroke="#3a3a3a" stroke-width="1.3" stroke-linejoin="round" points="275.9,170.0 283.0,171.3 290.0,172.9 300.0,175.6 310.0,177.2 318.0,177.8 325.0,177.4 335.0,175.7 341.4,173.4 343.4,171.9 346.3,170.4 348.7,168.2 351.7,150.2 354.6,124.5 356.0,76.6 359.2,74.0 361.6,77.1 364.5,84.3 367.4,98.3 369.8,116.2 371.7,137.2 374.7,154.7 377.0,166.4 379.4,171.9 381.7,174.0 384.8,174.0 388.0,172.7 392.0,171.2 396.0,170.2 401.3,169.6 406.0,169.7 411.0,170.3 416.9,171.1 422.0,172.5 427.0,174.0 432.3,175.6"/>
<g fill="#2e2e2e"><circle cx="275.9" cy="170.0" r="1.35"/><circle cx="278.7" cy="170.5" r="1.35"/><circle cx="281.5" cy="171.0" r="1.35"/><circle cx="284.3" cy="171.6" r="1.35"/><circle cx="287.1" cy="172.2" r="1.35"/><circle cx="289.9" cy="172.9" r="1.35"/><circle cx="292.7" cy="173.6" r="1.35"/><circle cx="295.5" cy="174.4" r="1.35"/><circle cx="298.3" cy="175.1" r="1.35"/><circle cx="301.1" cy="175.8" r="1.35"/><circle cx="303.9" cy="176.2" r="1.35"/><circle cx="306.7" cy="176.7" r="1.35"/><circle cx="309.5" cy="177.1" r="1.35"/><circle cx="312.3" cy="177.4" r="1.35"/><circle cx="315.1" cy="177.6" r="1.35"/><circle cx="317.9" cy="177.8" r="1.35"/><circle cx="320.7" cy="177.6" r="1.35"/><circle cx="323.5" cy="177.5" r="1.35"/><circle cx="326.3" cy="177.2" r="1.35"/><circle cx="329.1" cy="176.7" r="1.35"/><circle cx="331.9" cy="176.2" r="1.35"/><circle cx="334.7" cy="175.8" r="1.35"/><circle cx="337.5" cy="174.8" r="1.35"/><circle cx="340.3" cy="173.8" r="1.35"/><circle cx="343.1" cy="172.1" r="1.35"/><circle cx="345.9" cy="170.6" r="1.35"/><circle cx="348.7" cy="168.2" r="1.35"/><circle cx="348.7" cy="168.2" r="1.35"/><circle cx="351.7" cy="150.2" r="1.35"/><circle cx="354.6" cy="124.5" r="1.35"/><circle cx="356.0" cy="76.6" r="1.35"/><circle cx="359.2" cy="74.0" r="1.35"/><circle cx="361.6" cy="77.1" r="1.35"/><circle cx="364.5" cy="84.3" r="1.35"/><circle cx="367.4" cy="98.3" r="1.35"/><circle cx="369.8" cy="116.2" r="1.35"/><circle cx="371.7" cy="137.2" r="1.35"/><circle cx="374.7" cy="154.7" r="1.35"/><circle cx="377.0" cy="166.4" r="1.35"/><circle cx="379.4" cy="171.9" r="1.35"/><circle cx="381.7" cy="174.0" r="1.35"/><circle cx="384.8" cy="174.0" r="1.35"/><circle cx="388.0" cy="172.7" r="1.35"/><circle cx="390.8" cy="171.6" r="1.35"/><circle cx="393.6" cy="170.8" r="1.35"/><circle cx="396.4" cy="170.2" r="1.35"/><circle cx="399.2" cy="169.8" r="1.35"/><circle cx="402.0" cy="169.6" r="1.35"/><circle cx="404.8" cy="169.7" r="1.35"/><circle cx="407.6" cy="169.9" r="1.35"/><circle cx="410.4" cy="170.2" r="1.35"/><circle cx="413.2" cy="170.6" r="1.35"/><circle cx="416.0" cy="171.0" r="1.35"/><circle cx="418.8" cy="171.6" r="1.35"/><circle cx="421.6" cy="172.4" r="1.35"/><circle cx="424.4" cy="173.2" r="1.35"/><circle cx="427.2" cy="174.1" r="1.35"/><circle cx="430.0" cy="174.9" r="1.35"/></g>
<polyline fill="none" stroke="#e8202a" stroke-width="1.3" stroke-linejoin="round" points="276.0,173.5 280.3,172.9 284.7,171.9 289.0,171.2 293.3,170.3 297.6,169.9 302.0,169.8 306.3,169.7 310.6,169.6 315.0,169.6 319.3,169.5 323.6,169.4 328.0,169.4 332.3,169.3 336.6,169.2 340.9,169.0 345.3,168.4 349.6,151.5 353.9,116.7 358.3,60.2 362.6,57.5 366.9,62.5 371.3,75.5 375.6,100.9 379.9,132.3 384.2,157.8 388.6,170.0 392.9,175.0 397.2,175.0 401.6,174.5 405.9,173.9 410.2,173.4 414.6,173.0 418.9,172.3 423.2,171.9 427.6,171.1 431.9,170.3"/>
<g fill="#ee1c24"><circle cx="276.0" cy="173.5" r="1.45"/><circle cx="280.3" cy="172.9" r="1.45"/><circle cx="284.7" cy="171.9" r="1.45"/><circle cx="289.0" cy="171.2" r="1.45"/><circle cx="293.3" cy="170.3" r="1.45"/><circle cx="297.6" cy="169.9" r="1.45"/><circle cx="302.0" cy="169.8" r="1.45"/><circle cx="306.3" cy="169.7" r="1.45"/><circle cx="310.6" cy="169.6" r="1.45"/><circle cx="315.0" cy="169.6" r="1.45"/><circle cx="319.3" cy="169.5" r="1.45"/><circle cx="323.6" cy="169.4" r="1.45"/><circle cx="328.0" cy="169.4" r="1.45"/><circle cx="332.3" cy="169.3" r="1.45"/><circle cx="336.6" cy="169.2" r="1.45"/><circle cx="340.9" cy="169.0" r="1.45"/><circle cx="345.3" cy="168.4" r="1.45"/><circle cx="349.6" cy="151.5" r="1.45"/><circle cx="353.9" cy="116.7" r="1.45"/><circle cx="358.3" cy="60.2" r="1.45"/><circle cx="362.6" cy="57.5" r="1.45"/><circle cx="366.9" cy="62.5" r="1.45"/><circle cx="371.3" cy="75.5" r="1.45"/><circle cx="375.6" cy="100.9" r="1.45"/><circle cx="379.9" cy="132.3" r="1.45"/><circle cx="384.2" cy="157.8" r="1.45"/><circle cx="388.6" cy="170.0" r="1.45"/><circle cx="392.9" cy="175.0" r="1.45"/><circle cx="397.2" cy="175.0" r="1.45"/><circle cx="401.6" cy="174.5" r="1.45"/><circle cx="405.9" cy="173.9" r="1.45"/><circle cx="410.2" cy="173.4" r="1.45"/><circle cx="414.6" cy="173.0" r="1.45"/><circle cx="418.9" cy="172.3" r="1.45"/><circle cx="423.2" cy="171.9" r="1.45"/><circle cx="427.6" cy="171.1" r="1.45"/><circle cx="431.9" cy="170.3" r="1.45"/></g>
<g stroke="#7fb2e0" stroke-width="0.8" fill="none"><line x1="346.3" y1="83.5" x2="346.3" y2="179.5"/><line x1="397.2" y1="83.5" x2="397.2" y2="178"/><line x1="382.7" y1="134.5" x2="382.7" y2="182"/><line x1="346.3" y1="91.8" x2="397.2" y2="91.8"/><line x1="346.3" y1="147.3" x2="447" y2="147.3"/></g>
<line x1="398" y1="91.8" x2="443" y2="91.8" stroke="#b8b0c8" stroke-width="0.6"/>
<g fill="#2e6eb0"><rect x="345.3" y="90.8" width="2" height="2"/><rect x="396.2" y="90.8" width="2" height="2"/><rect x="345.3" y="146.3" width="2" height="2"/><rect x="381.7" y="146.3" width="2" height="2"/></g>
<rect x="403.3" y="80.9" width="37.3" height="10" fill="#fff" stroke="#444" stroke-width="0.7"/>
<text x="422" y="88.3" text-anchor="middle" class="bx">0.336pitch</text>
<rect x="403.6" y="135" width="36.1" height="8.3" fill="#fff" stroke="#444" stroke-width="0.7"/>
<text x="421.7" y="141.6" text-anchor="middle" class="bx">0.260pitch</text>
<rect x="401.5" y="45.4" width="40.2" height="20.2" fill="#fff" stroke="#666" stroke-width="0.8"/>
<line x1="402.7" y1="51" x2="420.6" y2="51" stroke="#383838" stroke-width="1.3"/><circle cx="411.7" cy="51" r="1.5" fill="#222"/>
<line x1="402.7" y1="60.5" x2="420.6" y2="60.5" stroke="#e8202a" stroke-width="1.3"/><circle cx="411.7" cy="60.5" r="1.5" fill="#e01820"/>
<text x="422" y="54" class="lg" textLength="14" lengthAdjust="spacingAndGlyphs">0km</text>
<text x="422.6" y="63.5" class="lg" textLength="17.4" lengthAdjust="spacingAndGlyphs">20km</text>
<g clip-path="url(#ic0)">
<rect x="283.7" y="76.0" width="15.05" height="60.50" fill="url(#ib0)"/>
<rect x="283.7" y="76.0" width="15.05" height="60.50" fill="url(#bg00)"/>
<path d="M280.63,69.82 L294.07,89.71 L296.63,87.97 L283.20,68.08Z" fill="url(#wg00)"/>
<rect x="283.7" y="76.0" width="15.05" height="60.50" fill="url(#bg01)"/>
<path d="M280.63,125.62 L294.07,145.51 L296.63,143.77 L283.20,123.88Z" fill="url(#wg01)"/>
<rect x="283.7" y="76.0" width="0.9" height="1.4" fill="#2040c0" opacity="0.8"/>
<line x1="293.90" y1="84.8" x2="293.90" y2="136.5" stroke="#5a2c0c" stroke-width="1.05" stroke-dasharray="1.5 1.36"/>
</g>
<g clip-path="url(#ic1)">
<rect x="298.75" y="76.0" width="16.05" height="60.50" fill="url(#ib1)"/>
<rect x="298.75" y="76.0" width="16.05" height="60.50" fill="url(#bg10)"/>
<path d="M295.68,69.82 L309.12,89.71 L311.68,87.97 L298.25,68.08Z" fill="url(#wg10)"/>
<rect x="298.75" y="76.0" width="16.05" height="60.50" fill="url(#bg11)"/>
<path d="M295.68,125.62 L309.12,145.51 L311.68,143.77 L298.25,123.88Z" fill="url(#wg11)"/>
<rect x="298.75" y="76.0" width="0.9" height="1.4" fill="#2040c0" opacity="0.8"/>
<line x1="308.95" y1="84.8" x2="308.95" y2="136.5" stroke="#5a2c0c" stroke-width="1.05" stroke-dasharray="1.5 1.36"/>
</g>
<text x="18" y="212.6" class="cap" textLength="66.3" lengthAdjust="spacingAndGlyphs">0km altitude</text>
<text x="137.2" y="212.6" class="cap" textLength="71.6" lengthAdjust="spacingAndGlyphs">20km altitude</text>
</svg>
</body></html>
